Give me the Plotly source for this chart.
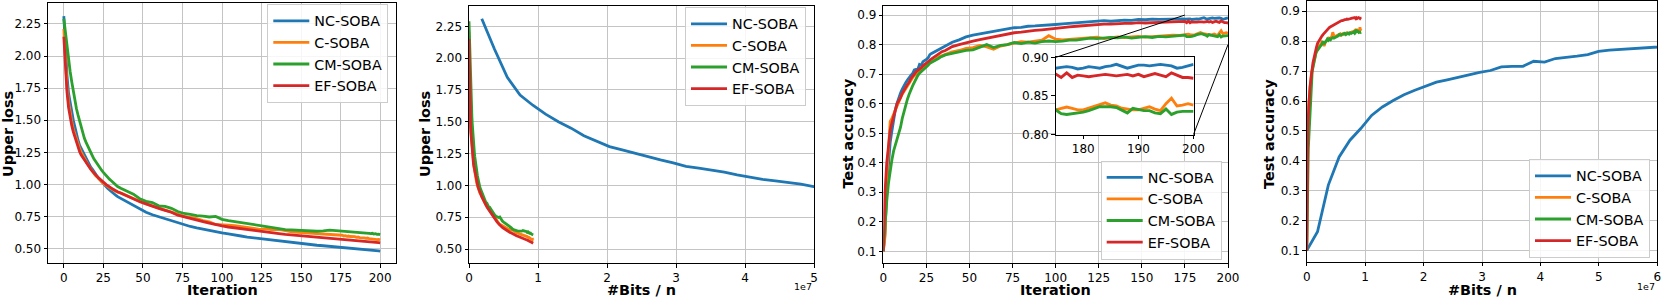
import plotly.graph_objects as go

# ---------------- data ----------------
iter_early = list(range(0, 35))
iter_mid = list(range(36, 173, 4))
iter_late = list(range(174, 201))
iterations = iter_early + iter_mid + iter_late

methods = ["NC-SOBA", "C-SOBA", "CM-SOBA", "EF-SOBA"]
colors = ["#1f77b4", "#ff7f0e", "#2ca02c", "#d62728"]

# communicated bits per iteration (per node)
bits_per_iter_nc = 1.85e6
bits_per_iter_comp = 4.65e4

loss_nc = ([2.31, 2.07, 1.85, 1.71, 1.63, 1.56, 1.50, 1.45, 1.39, 1.345, 1.305, 1.28, 1.252, 1.227,
            1.20, 1.177, 1.15, 1.135, 1.12, 1.105, 1.083, 1.065, 1.048, 1.036, 1.024, 1.01, 0.99,
            0.98, 0.967, 0.955, 0.945, 0.934, 0.925, 0.915, 0.906]
           + [0.893, 0.866, 0.842, 0.81, 0.785, 0.765, 0.75, 0.735, 0.718, 0.703, 0.686, 0.674,
              0.663, 0.652, 0.642, 0.633, 0.624, 0.616, 0.606, 0.6, 0.592, 0.586, 0.578, 0.573,
              0.566, 0.56, 0.553, 0.548, 0.543, 0.537, 0.532, 0.528, 0.524, 0.52, 0.516]
           + [0.514, 0.513, 0.511, 0.512, 0.51, 0.508, 0.507, 0.506, 0.504, 0.505, 0.503, 0.501,
              0.5, 0.499, 0.5, 0.497, 0.495, 0.494, 0.493, 0.491, 0.492, 0.49, 0.488, 0.487,
              0.486, 0.484, 0.482])
loss_c = ([2.21, 1.95, 1.76, 1.64, 1.55, 1.49, 1.43, 1.39, 1.35, 1.31, 1.28, 1.25, 1.225, 1.20,
           1.18, 1.16, 1.14, 1.12, 1.10, 1.085, 1.07, 1.06, 1.045, 1.035, 1.02, 1.01, 1.0, 0.99,
           0.983, 0.975, 0.967, 0.96, 0.953, 0.946, 0.94]
          + [0.933, 0.91, 0.89, 0.87, 0.85, 0.835, 0.82, 0.80, 0.79, 0.77, 0.752, 0.745, 0.735,
             0.72, 0.71, 0.69, 0.69, 0.685, 0.68, 0.672, 0.665, 0.66, 0.652, 0.655, 0.648, 0.652,
             0.64, 0.632, 0.628, 0.625, 0.62, 0.615, 0.612, 0.608, 0.605]
          + [0.605, 0.603, 0.606, 0.6, 0.602, 0.598, 0.6, 0.596, 0.597, 0.594, 0.595, 0.59, 0.592,
             0.588, 0.589, 0.585, 0.586, 0.582, 0.584, 0.58, 0.578, 0.579, 0.575, 0.576, 0.572,
             0.574, 0.57])
loss_cm = ([2.29, 2.18, 2.06, 1.96, 1.88, 1.80, 1.72, 1.65, 1.59, 1.54, 1.49, 1.44, 1.40, 1.36,
            1.33, 1.30, 1.275, 1.25, 1.225, 1.20, 1.18, 1.16, 1.14, 1.125, 1.11, 1.095, 1.08,
            1.065, 1.05, 1.04, 1.03, 1.018, 1.005, 0.995, 0.985]
           + [0.972, 0.948, 0.925, 0.89, 0.87, 0.86, 0.835, 0.83, 0.815, 0.79, 0.775, 0.768,
              0.758, 0.755, 0.748, 0.752, 0.73, 0.72, 0.712, 0.705, 0.70, 0.69, 0.68, 0.672,
              0.667, 0.655, 0.65, 0.648, 0.645, 0.643, 0.64, 0.637, 0.64, 0.645, 0.642]
           + [0.64, 0.638, 0.642, 0.636, 0.64, 0.634, 0.637, 0.632, 0.635, 0.63, 0.634, 0.628,
              0.63, 0.626, 0.628, 0.624, 0.627, 0.622, 0.624, 0.62, 0.618, 0.621, 0.615, 0.618,
              0.613, 0.615, 0.611])
loss_ef = ([2.15, 1.90, 1.72, 1.60, 1.52, 1.46, 1.41, 1.37, 1.33, 1.29, 1.255, 1.23, 1.21, 1.19,
            1.17, 1.155, 1.14, 1.12, 1.105, 1.09, 1.075, 1.065, 1.05, 1.04, 1.028, 1.018, 1.008,
            0.998, 0.99, 0.98, 0.972, 0.965, 0.958, 0.95, 0.944]
           + [0.935, 0.91, 0.89, 0.866, 0.85, 0.83, 0.815, 0.80, 0.785, 0.762, 0.748, 0.735,
              0.722, 0.712, 0.70, 0.688, 0.678, 0.67, 0.663, 0.655, 0.648, 0.642, 0.636, 0.63,
              0.625, 0.618, 0.612, 0.608, 0.604, 0.60, 0.595, 0.59, 0.586, 0.582, 0.578]
           + [0.577, 0.576, 0.575, 0.575, 0.573, 0.572, 0.571, 0.571, 0.569, 0.568, 0.567, 0.566,
              0.565, 0.564, 0.562, 0.561, 0.56, 0.558, 0.557, 0.556, 0.555, 0.553, 0.552, 0.551,
              0.55, 0.548, 0.546])

acc_nc = ([0.10, 0.163, 0.319, 0.413, 0.469, 0.508, 0.552, 0.58, 0.602, 0.621, 0.636, 0.649,
           0.663, 0.671, 0.68, 0.689, 0.696, 0.702, 0.714, 0.716, 0.716, 0.733, 0.73, 0.742,
           0.745, 0.75, 0.755, 0.766, 0.77, 0.773, 0.776, 0.779, 0.782, 0.786, 0.79]
          + [0.795, 0.808, 0.816, 0.826, 0.832, 0.836, 0.84, 0.845, 0.849, 0.852, 0.857, 0.858,
             0.862, 0.863, 0.864, 0.867, 0.868, 0.87, 0.872, 0.874, 0.874, 0.876, 0.878, 0.881,
             0.879, 0.882, 0.883, 0.882, 0.885, 0.884, 0.886, 0.885, 0.886, 0.887, 0.886]
          + [0.887, 0.886, 0.887, 0.888, 0.887, 0.885, 0.886, 0.888, 0.887, 0.886, 0.888, 0.889,
             0.891, 0.888, 0.886, 0.888, 0.89, 0.89, 0.889, 0.89, 0.891, 0.89, 0.889, 0.886,
             0.887, 0.889, 0.891])
acc_c = ([0.10, 0.15, 0.35, 0.45, 0.54, 0.55, 0.565, 0.58, 0.595, 0.61, 0.62, 0.632, 0.642,
          0.65, 0.66, 0.668, 0.678, 0.688, 0.695, 0.70, 0.705, 0.71, 0.715, 0.72, 0.722, 0.728,
          0.732, 0.738, 0.742, 0.745, 0.75, 0.754, 0.757, 0.76, 0.762]
         + [0.766, 0.775, 0.78, 0.787, 0.79, 0.797, 0.792, 0.784, 0.795, 0.80, 0.806, 0.81,
            0.808, 0.812, 0.815, 0.83, 0.818, 0.816, 0.818, 0.82, 0.82, 0.822, 0.825, 0.82,
            0.823, 0.826, 0.824, 0.826, 0.828, 0.825, 0.827, 0.828, 0.83, 0.832, 0.831]
         + [0.833, 0.832, 0.834, 0.8356, 0.834, 0.832, 0.832, 0.834, 0.836, 0.839, 0.841, 0.838,
            0.837, 0.834, 0.833, 0.832, 0.832, 0.834, 0.836, 0.833, 0.831, 0.84, 0.847, 0.837,
            0.838, 0.84, 0.838])
acc_cm = ([0.10, 0.19, 0.27, 0.33, 0.38, 0.41, 0.44, 0.46, 0.48, 0.50, 0.52, 0.55, 0.575, 0.60,
           0.615, 0.632, 0.648, 0.66, 0.672, 0.685, 0.695, 0.703, 0.708, 0.713, 0.718, 0.722,
           0.73, 0.737, 0.74, 0.744, 0.745, 0.75, 0.753, 0.757, 0.76]
          + [0.765, 0.77, 0.776, 0.78, 0.782, 0.79, 0.8, 0.79, 0.797, 0.80, 0.807, 0.803, 0.808,
             0.805, 0.81, 0.812, 0.81, 0.812, 0.815, 0.815, 0.818, 0.822, 0.82, 0.822, 0.824,
             0.823, 0.826, 0.822, 0.825, 0.827, 0.824, 0.828, 0.826, 0.829, 0.83]
          + [0.831, 0.832, 0.827, 0.826, 0.827, 0.828, 0.829, 0.831, 0.834, 0.836, 0.836, 0.836,
             0.835, 0.832, 0.828, 0.834, 0.832, 0.831, 0.831, 0.828, 0.827, 0.833, 0.826, 0.829,
             0.83, 0.83, 0.83])
acc_ef = ([0.10, 0.30, 0.40, 0.46, 0.51, 0.535, 0.56, 0.58, 0.60, 0.61, 0.62, 0.635, 0.648,
           0.655, 0.665, 0.672, 0.685, 0.695, 0.70, 0.708, 0.712, 0.718, 0.722, 0.728, 0.732,
           0.737, 0.742, 0.747, 0.752, 0.756, 0.762, 0.766, 0.768, 0.772, 0.776]
          + [0.78, 0.793, 0.8, 0.807, 0.812, 0.817, 0.822, 0.826, 0.831, 0.836, 0.84, 0.842,
             0.846, 0.848, 0.85, 0.853, 0.856, 0.858, 0.86, 0.862, 0.864, 0.865, 0.867, 0.869,
             0.869, 0.871, 0.872, 0.872, 0.874, 0.873, 0.875, 0.875, 0.876, 0.877, 0.877]
          + [0.877, 0.8785, 0.874, 0.88, 0.874, 0.877, 0.876, 0.875, 0.876, 0.877, 0.878, 0.877,
             0.876, 0.877, 0.878, 0.876, 0.878, 0.875, 0.877, 0.879, 0.877, 0.875, 0.88, 0.877,
             0.874, 0.874, 0.873])

loss_series = [loss_nc, loss_c, loss_cm, loss_ef]
acc_series = [acc_nc, acc_c, acc_cm, acc_ef]

# bits axis (x) for the communication plots
bits_nc_loss = [(i + 1) * bits_per_iter_nc for i in iterations]
bits_nc_acc = [i * bits_per_iter_nc for i in iterations]
bits_comp = [i * bits_per_iter_comp for i in iterations]
bits_loss = [bits_nc_loss, bits_comp, bits_comp, bits_comp]
bits_acc = [bits_nc_acc, bits_comp, bits_comp, bits_comp]

iter_ticks = [0, 25, 50, 75, 100, 125, 150, 175, 200]
loss_ticks = [0.5, 0.75, 1.0, 1.25, 1.5, 1.75, 2.0, 2.25]
acc_ticks = [0.1, 0.2, 0.3, 0.4, 0.5, 0.6, 0.7, 0.8, 0.9]
bits_ticks_2 = [0, 1, 2, 3, 4, 5]
bits_ticks_4 = [0, 1, 2, 3, 4, 5, 6]
inset_x_ticks = [180, 190, 200]
inset_y_ticks = [0.80, 0.85, 0.90]

# ---------------- layout helpers ----------------
W, H = 1663, 298
FONT = "DejaVu Sans"
LW = 2.8


def xd(a, b):
    return [a / W, b / W]


def yd(top, bottom):
    return [1 - bottom / H, 1 - top / H]


P1 = dict(x=(48, 396), y=(3.3, 263))
P2 = dict(x=(469, 814), y=(6, 263))
P3 = dict(x=(883.3, 1228), y=(6, 263))
P4 = dict(x=(1306.7, 1657.3), y=(0.5, 261.7))
p3w = P3["x"][1] - P3["x"][0]
p3h = P3["y"][1] - P3["y"][0]
INSET = dict(x=(P3["x"][0] + 0.5 * p3w, P3["x"][0] + 0.9 * p3w),
             y=(P3["y"][1] - 0.8 * p3h, P3["y"][1] - 0.5 * p3h))

fig = go.Figure()

for k in range(4):
    fig.add_trace(go.Scatter(x=iterations, y=loss_series[k], mode="lines", name=methods[k],
                             line=dict(color=colors[k], width=LW), xaxis="x", yaxis="y",
                             legend="legend"))
for k in range(4):
    fig.add_trace(go.Scatter(x=bits_loss[k], y=loss_series[k], mode="lines", name=methods[k],
                             line=dict(color=colors[k], width=LW), xaxis="x2", yaxis="y2",
                             legend="legend2"))
for k in range(4):
    fig.add_trace(go.Scatter(x=iterations, y=acc_series[k], mode="lines", name=methods[k],
                             line=dict(color=colors[k], width=LW), xaxis="x3", yaxis="y3",
                             legend="legend3"))
for k in range(4):
    fig.add_trace(go.Scatter(x=bits_acc[k], y=acc_series[k], mode="lines", name=methods[k],
                             line=dict(color=colors[k], width=LW), xaxis="x4", yaxis="y4",
                             legend="legend4"))
for k in range(4):
    fig.add_trace(go.Scatter(x=iterations, y=acc_series[k], mode="lines", name=methods[k],
                             line=dict(color=colors[k], width=2.9), xaxis="x5", yaxis="y5",
                             showlegend=False))

tickfont = dict(family=FONT, size=12, color="black")
common = dict(showline=True, mirror=True, linecolor="black", linewidth=1, ticks="outside",
              ticklen=3.5, tickwidth=1, tickcolor="black", showgrid=True, gridcolor="#c4c4c4",
              gridwidth=1, zeroline=False, tickfont=tickfont, automargin=False)

loss_range = [0.39, 2.41]
acc_range = [0.0604, 0.9306]

layout = dict(
    width=W, height=H, autosize=False,
    margin=dict(l=0, r=0, t=0, b=0, pad=0, autoexpand=False),
    paper_bgcolor="white", plot_bgcolor="white",
    font=dict(family=FONT, color="black"),
    xaxis=dict(domain=xd(*P1["x"]), range=[-10, 210], anchor="y", tickvals=iter_ticks,
               ticktext=[str(v) for v in iter_ticks], **common),
    yaxis=dict(domain=yd(*P1["y"]), range=loss_range, anchor="x", tickvals=loss_ticks,
               ticktext=["%.2f" % v for v in loss_ticks], **common),
    xaxis2=dict(domain=xd(*P2["x"]), range=[0, 5e7], anchor="y2",
                tickvals=[v * 1e7 for v in bits_ticks_2], ticktext=[str(v) for v in bits_ticks_2],
                **common),
    yaxis2=dict(domain=yd(*P2["y"]), range=loss_range, anchor="x2", tickvals=loss_ticks,
                ticktext=["%.2f" % v for v in loss_ticks], **common),
    xaxis3=dict(domain=xd(*P3["x"]), range=[0, 200], anchor="y3", tickvals=iter_ticks,
                ticktext=[str(v) for v in iter_ticks], **common),
    yaxis3=dict(domain=yd(*P3["y"]), range=acc_range, anchor="x3", tickvals=acc_ticks,
                ticktext=["%.1f" % v for v in acc_ticks], **common),
    xaxis4=dict(domain=xd(*P4["x"]), range=[0, 6e7], anchor="y4",
                tickvals=[v * 1e7 for v in bits_ticks_4], ticktext=[str(v) for v in bits_ticks_4],
                **common),
    yaxis4=dict(domain=yd(*P4["y"]), range=[0.063, 0.936], anchor="x4", tickvals=acc_ticks,
                ticktext=["%.1f" % v for v in acc_ticks], **common),
)
inset_common = dict(common)
inset_common["showgrid"] = False
layout["xaxis5"] = dict(domain=xd(*INSET["x"]), range=[175, 200], anchor="y5",
                        tickvals=inset_x_ticks, ticktext=[str(v) for v in inset_x_ticks],
                        **inset_common)
layout["yaxis5"] = dict(domain=yd(*INSET["y"]), range=[0.80, 0.90], anchor="x5",
                        tickvals=inset_y_ticks, ticktext=["%.2f" % v for v in inset_y_ticks],
                        **inset_common)

leg_common = dict(bgcolor="rgba(255,255,255,0.85)", bordercolor="#cccccc", borderwidth=1,
                  font=dict(family=FONT, size=14.3, color="black"), xanchor="right",
                  itemwidth=36)
layout["legend"] = dict(x=388.3 / W, y=1 - 4 / H, yanchor="top", **leg_common)
layout["legend2"] = dict(x=806 / W, y=1 - 7 / H, yanchor="top", **leg_common)
layout["legend3"] = dict(x=1221.7 / W, y=1 - 259.5 / H, yanchor="bottom", **leg_common)
layout["legend4"] = dict(x=1650 / W, y=1 - 258 / H, yanchor="bottom", **leg_common)

fig.update_layout(**layout)

# white background for the inset (covers main grid beneath it)
fig.add_shape(type="rect", xref="x5", yref="y5", x0=175, x1=200, y0=0.80, y1=0.90,
              fillcolor="white", line=dict(width=0), layer="below")
# zoom connector lines
x_of = lambda f: 0 + f * 200
y_of = lambda f: acc_range[0] + f * (acc_range[1] - acc_range[0])
fig.add_shape(type="line", xref="x3", yref="y3", x0=175, y0=0.90, x1=x_of(0.5), y1=y_of(0.8),
              line=dict(color="black", width=1), layer="above")
fig.add_shape(type="line", xref="x3", yref="y3", x0=200, y0=0.80, x1=x_of(0.9), y1=y_of(0.5),
              line=dict(color="black", width=1), layer="above")

label_font = dict(family=FONT, size=14.4, color="black", weight="bold")
ann = []
for txt, xc in [("Iteration", 222), ("#Bits / n", 641.5), ("Iteration", 1055.6), ("#Bits / n", 1482)]:
    ann.append(dict(text=txt, x=xc / W, y=1 - 290 / H, xref="paper", yref="paper",
                    xanchor="center", yanchor="middle", showarrow=False, font=label_font))
for txt, xc in [("Upper loss", 8), ("Upper loss", 425), ("Test accuracy", 847.5), ("Test accuracy", 1269)]:
    ann.append(dict(text=txt, x=xc / W, y=1 - 134 / H, xref="paper", yref="paper",
                    xanchor="center", yanchor="middle", textangle=-90, showarrow=False,
                    font=label_font))
for xr in [814, 1657.3]:
    ann.append(dict(text="1e7", x=xr / W, y=1 - 286 / H, xref="paper", yref="paper",
                    xanchor="right", yanchor="middle", showarrow=False,
                    font=dict(family=FONT, size=9.5, color="black")))
fig.update_layout(annotations=ann)

fig.write_html("out.html",
               config={"displayModeBar": False, "staticPlot": True},
               post_script="document.body.style.margin='0';document.body.style.padding='0';"
                           "document.body.style.overflow='hidden';")
